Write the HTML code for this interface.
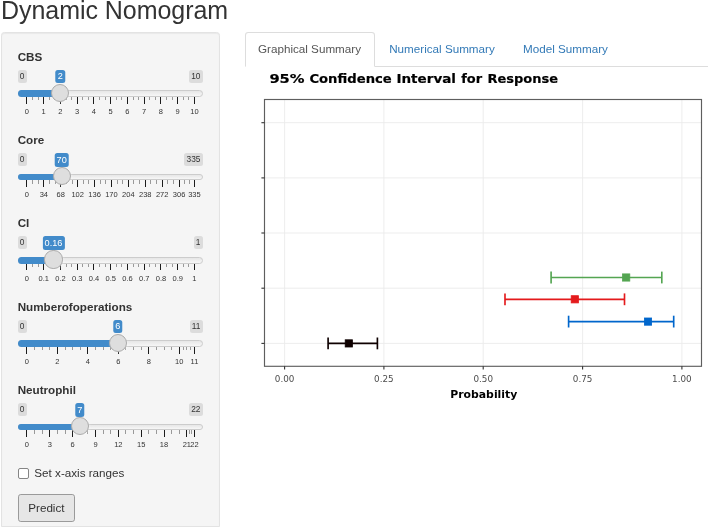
<!DOCTYPE html>
<html><head><meta charset="utf-8"><title>Dynamic Nomogram</title>
<style>
*{box-sizing:border-box}
html,body{margin:0;padding:0;background:#fff}
body{width:708px;height:528px;position:relative;overflow:hidden;font-family:"Liberation Sans",Arial,sans-serif;font-size:11.667px;line-height:16.667px;color:#333}
h2{position:absolute;left:1px;top:-2.6px;margin:0;font-weight:500;font-weight:normal;font-size:25px;line-height:27.5px;color:#333;white-space:nowrap;letter-spacing:-0.05px}
.well{position:absolute;left:1px;top:32px;width:219px;height:495px;background:#f5f5f5;border:0.83px solid #e3e3e3;border-radius:3.3px 3.3px 0 0;box-shadow:inset 0 1px 1px rgba(0,0,0,.05)}
.lbl{position:absolute;left:17.67px;font-weight:bold;white-space:nowrap;height:16.67px}
.irs{position:absolute;left:17.67px;width:185.0px;height:50px;font-size:10px}
.irs span,.irs i,.irs b{position:absolute;display:block}
.line{left:0;top:20.83px;width:100%;height:6.67px;border:0.83px solid #ccc;border-radius:6.67px;background:linear-gradient(#dedede -50%,#fff 150%)}
.bar{left:0;top:20.83px;height:6.67px;background:#428bca;border-radius:6.67px 0 0 6.67px}
.handle{top:14.2px;width:18.2px;height:18.2px;border:1px solid #ababab;background:#dedede;border-radius:50%;box-shadow:1px 1px 2.5px rgba(255,255,255,.3)}
.min,.max{top:0.3px;font-size:8.33px;line-height:11.11px;padding:0.83px 2.2px;background:rgba(0,0,0,.1);border-radius:2.5px;color:#333;white-space:nowrap}
.min{left:0}.max{right:0}
.single{top:0;font-size:9.17px;line-height:12.22px;padding:0.83px 2.2px;background:#428bca;color:#fff;border-radius:2.5px;transform:translateX(-50%);white-space:nowrap}
.pol{top:27.5px;width:0.9px;height:6.67px;background:#1c1c1c}
.pol.sm{height:3.33px;background:#999}
.gt{top:38.5px;font-weight:normal;font-size:7.5px;line-height:7.5px;color:#333;transform:translateX(-50%);white-space:nowrap}
.cb{position:absolute;left:17.67px;top:468px;width:11px;height:11px;border:0.9px solid #858585;border-radius:2px;background:#fff}
.cbl{position:absolute;left:34.33px;top:464.5px;white-space:nowrap}
.btn{position:absolute;left:17.67px;top:494px;height:28px;width:57.3px;padding:5.2px 0 0 9.6px;border:1px solid #9a9a9a;border-radius:2.8px;background:#e6e6e6;color:#333;font-size:11.667px;line-height:16.667px}
.tabs{position:absolute;left:244.5px;top:32px;right:0;height:35px;border-bottom:0.83px solid #ddd}
.tab{position:absolute;top:0;height:35px;padding:7.6px 12.5px 0;color:#337ab7;white-space:nowrap;border:0.83px solid transparent}
.tab.act{color:#555;background:#fff;border:0.83px solid #ddd;border-bottom-color:#fff;border-radius:3.3px 3.3px 0 0}
.plot{position:absolute;left:0;top:0}
.plot text{font-family:"DejaVu Sans",Verdana,sans-serif}
.tk{font-size:8.8px;fill:#4d4d4d}
.ttl{font-size:13px;font-weight:bold;fill:#000;stroke:#000;stroke-width:0.2px}
.xl{font-size:10.4px;font-weight:bold;fill:#000}
</style></head><body>
<h2>Dynamic Nomogram</h2>
<div class="well"></div>
<div class="lbl" style="top:48.67px">CBS</div>
<div class="irs" style="top:69.50px">
<span class="line"></span>
<span class="min">0</span><span class="max">10</span>
<i class="pol" style="left:8.80px"></i>
<b class="gt" style="left:9.30px">0</b>
<i class="pol sm" style="left:14.38px"></i>
<i class="pol sm" style="left:19.97px"></i>
<i class="pol" style="left:25.55px"></i>
<b class="gt" style="left:26.05px">1</b>
<i class="pol sm" style="left:31.13px"></i>
<i class="pol sm" style="left:36.72px"></i>
<i class="pol" style="left:42.30px"></i>
<b class="gt" style="left:42.80px">2</b>
<i class="pol sm" style="left:47.88px"></i>
<i class="pol sm" style="left:53.47px"></i>
<i class="pol" style="left:59.05px"></i>
<b class="gt" style="left:59.55px">3</b>
<i class="pol sm" style="left:64.63px"></i>
<i class="pol sm" style="left:70.22px"></i>
<i class="pol" style="left:75.80px"></i>
<b class="gt" style="left:76.30px">4</b>
<i class="pol sm" style="left:81.38px"></i>
<i class="pol sm" style="left:86.97px"></i>
<i class="pol" style="left:92.55px"></i>
<b class="gt" style="left:93.05px">5</b>
<i class="pol sm" style="left:98.13px"></i>
<i class="pol sm" style="left:103.72px"></i>
<i class="pol" style="left:109.30px"></i>
<b class="gt" style="left:109.80px">6</b>
<i class="pol sm" style="left:114.88px"></i>
<i class="pol sm" style="left:120.47px"></i>
<i class="pol" style="left:126.05px"></i>
<b class="gt" style="left:126.55px">7</b>
<i class="pol sm" style="left:131.63px"></i>
<i class="pol sm" style="left:137.22px"></i>
<i class="pol" style="left:142.80px"></i>
<b class="gt" style="left:143.30px">8</b>
<i class="pol sm" style="left:148.38px"></i>
<i class="pol sm" style="left:153.97px"></i>
<i class="pol" style="left:159.55px"></i>
<b class="gt" style="left:160.05px">9</b>
<i class="pol sm" style="left:165.13px"></i>
<i class="pol sm" style="left:170.72px"></i>
<i class="pol" style="left:176.30px"></i>
<b class="gt" style="left:176.80px">10</b>
<span class="bar" style="width:42.93px"></span>
<span class="single" style="left:42.53px">2</span>
<span class="handle" style="left:33.43px"></span>
</div>
<div class="lbl" style="top:132.00px">Core</div>
<div class="irs" style="top:152.83px">
<span class="line"></span>
<span class="min">0</span><span class="max">335</span>
<i class="pol" style="left:8.80px"></i>
<b class="gt" style="left:9.30px">0</b>
<i class="pol sm" style="left:14.43px"></i>
<i class="pol sm" style="left:20.07px"></i>
<i class="pol" style="left:25.70px"></i>
<b class="gt" style="left:26.20px">34</b>
<i class="pol sm" style="left:31.33px"></i>
<i class="pol sm" style="left:36.97px"></i>
<i class="pol" style="left:42.60px"></i>
<b class="gt" style="left:43.10px">68</b>
<i class="pol sm" style="left:48.24px"></i>
<i class="pol sm" style="left:53.87px"></i>
<i class="pol" style="left:59.50px"></i>
<b class="gt" style="left:60.00px">102</b>
<i class="pol sm" style="left:65.14px"></i>
<i class="pol sm" style="left:70.77px"></i>
<i class="pol" style="left:76.40px"></i>
<b class="gt" style="left:76.90px">136</b>
<i class="pol sm" style="left:82.04px"></i>
<i class="pol sm" style="left:87.67px"></i>
<i class="pol" style="left:93.30px"></i>
<b class="gt" style="left:93.80px">170</b>
<i class="pol sm" style="left:98.94px"></i>
<i class="pol sm" style="left:104.57px"></i>
<i class="pol" style="left:110.20px"></i>
<b class="gt" style="left:110.70px">204</b>
<i class="pol sm" style="left:115.84px"></i>
<i class="pol sm" style="left:121.47px"></i>
<i class="pol" style="left:127.11px"></i>
<b class="gt" style="left:127.61px">238</b>
<i class="pol sm" style="left:132.74px"></i>
<i class="pol sm" style="left:138.37px"></i>
<i class="pol" style="left:144.01px"></i>
<b class="gt" style="left:144.51px">272</b>
<i class="pol sm" style="left:149.64px"></i>
<i class="pol sm" style="left:155.27px"></i>
<i class="pol" style="left:160.91px"></i>
<b class="gt" style="left:161.41px">306</b>
<i class="pol sm" style="left:166.04px"></i>
<i class="pol sm" style="left:171.17px"></i>
<i class="pol" style="left:176.30px"></i>
<b class="gt" style="left:176.80px">335</b>
<span class="bar" style="width:44.43px"></span>
<span class="single" style="left:44.03px">70</span>
<span class="handle" style="left:34.93px"></span>
</div>
<div class="lbl" style="top:215.34px">CI</div>
<div class="irs" style="top:236.17px">
<span class="line"></span>
<span class="min">0</span><span class="max">1</span>
<i class="pol" style="left:8.80px"></i>
<b class="gt" style="left:9.30px">0</b>
<i class="pol sm" style="left:14.38px"></i>
<i class="pol sm" style="left:19.97px"></i>
<i class="pol" style="left:25.55px"></i>
<b class="gt" style="left:26.05px">0.1</b>
<i class="pol sm" style="left:31.13px"></i>
<i class="pol sm" style="left:36.72px"></i>
<i class="pol" style="left:42.30px"></i>
<b class="gt" style="left:42.80px">0.2</b>
<i class="pol sm" style="left:47.88px"></i>
<i class="pol sm" style="left:53.47px"></i>
<i class="pol" style="left:59.05px"></i>
<b class="gt" style="left:59.55px">0.3</b>
<i class="pol sm" style="left:64.63px"></i>
<i class="pol sm" style="left:70.22px"></i>
<i class="pol" style="left:75.80px"></i>
<b class="gt" style="left:76.30px">0.4</b>
<i class="pol sm" style="left:81.38px"></i>
<i class="pol sm" style="left:86.97px"></i>
<i class="pol" style="left:92.55px"></i>
<b class="gt" style="left:93.05px">0.5</b>
<i class="pol sm" style="left:98.13px"></i>
<i class="pol sm" style="left:103.72px"></i>
<i class="pol" style="left:109.30px"></i>
<b class="gt" style="left:109.80px">0.6</b>
<i class="pol sm" style="left:114.88px"></i>
<i class="pol sm" style="left:120.47px"></i>
<i class="pol" style="left:126.05px"></i>
<b class="gt" style="left:126.55px">0.7</b>
<i class="pol sm" style="left:131.63px"></i>
<i class="pol sm" style="left:137.22px"></i>
<i class="pol" style="left:142.80px"></i>
<b class="gt" style="left:143.30px">0.8</b>
<i class="pol sm" style="left:148.38px"></i>
<i class="pol sm" style="left:153.97px"></i>
<i class="pol" style="left:159.55px"></i>
<b class="gt" style="left:160.05px">0.9</b>
<i class="pol sm" style="left:165.13px"></i>
<i class="pol sm" style="left:170.72px"></i>
<i class="pol" style="left:176.30px"></i>
<b class="gt" style="left:176.80px">1</b>
<span class="bar" style="width:36.27px"></span>
<span class="single" style="left:35.87px">0.16</span>
<span class="handle" style="left:26.77px"></span>
</div>
<div class="lbl" style="top:298.67px">Numberofoperations</div>
<div class="irs" style="top:319.50px">
<span class="line"></span>
<span class="min">0</span><span class="max">11</span>
<i class="pol" style="left:8.80px"></i>
<b class="gt" style="left:9.30px">0</b>
<i class="pol sm" style="left:16.41px"></i>
<i class="pol sm" style="left:24.03px"></i>
<i class="pol sm" style="left:31.64px"></i>
<i class="pol" style="left:39.25px"></i>
<b class="gt" style="left:39.75px">2</b>
<i class="pol sm" style="left:46.87px"></i>
<i class="pol sm" style="left:54.48px"></i>
<i class="pol sm" style="left:62.10px"></i>
<i class="pol" style="left:69.71px"></i>
<b class="gt" style="left:70.21px">4</b>
<i class="pol sm" style="left:77.32px"></i>
<i class="pol sm" style="left:84.94px"></i>
<i class="pol sm" style="left:92.55px"></i>
<i class="pol" style="left:100.16px"></i>
<b class="gt" style="left:100.66px">6</b>
<i class="pol sm" style="left:107.78px"></i>
<i class="pol sm" style="left:115.39px"></i>
<i class="pol sm" style="left:123.00px"></i>
<i class="pol" style="left:130.62px"></i>
<b class="gt" style="left:131.12px">8</b>
<i class="pol sm" style="left:138.23px"></i>
<i class="pol sm" style="left:145.85px"></i>
<i class="pol sm" style="left:153.46px"></i>
<i class="pol" style="left:161.07px"></i>
<b class="gt" style="left:161.57px">10</b>
<i class="pol sm" style="left:164.88px"></i>
<i class="pol sm" style="left:168.69px"></i>
<i class="pol sm" style="left:172.49px"></i>
<i class="pol" style="left:176.30px"></i>
<b class="gt" style="left:176.80px">11</b>
<span class="bar" style="width:100.51px"></span>
<span class="single" style="left:100.11px">6</span>
<span class="handle" style="left:91.01px"></span>
</div>
<div class="lbl" style="top:382.00px">Neutrophil</div>
<div class="irs" style="top:402.83px">
<span class="line"></span>
<span class="min">0</span><span class="max">22</span>
<i class="pol" style="left:8.80px"></i>
<b class="gt" style="left:9.30px">0</b>
<i class="pol sm" style="left:16.41px"></i>
<i class="pol sm" style="left:24.03px"></i>
<i class="pol" style="left:31.64px"></i>
<b class="gt" style="left:32.14px">3</b>
<i class="pol sm" style="left:39.25px"></i>
<i class="pol sm" style="left:46.87px"></i>
<i class="pol" style="left:54.48px"></i>
<b class="gt" style="left:54.98px">6</b>
<i class="pol sm" style="left:62.10px"></i>
<i class="pol sm" style="left:69.71px"></i>
<i class="pol" style="left:77.32px"></i>
<b class="gt" style="left:77.82px">9</b>
<i class="pol sm" style="left:84.94px"></i>
<i class="pol sm" style="left:92.55px"></i>
<i class="pol" style="left:100.16px"></i>
<b class="gt" style="left:100.66px">12</b>
<i class="pol sm" style="left:107.78px"></i>
<i class="pol sm" style="left:115.39px"></i>
<i class="pol" style="left:123.00px"></i>
<b class="gt" style="left:123.50px">15</b>
<i class="pol sm" style="left:130.62px"></i>
<i class="pol sm" style="left:138.23px"></i>
<i class="pol" style="left:145.85px"></i>
<b class="gt" style="left:146.35px">18</b>
<i class="pol sm" style="left:153.46px"></i>
<i class="pol sm" style="left:161.07px"></i>
<i class="pol" style="left:168.69px"></i>
<b class="gt" style="left:169.19px">21</b>
<i class="pol sm" style="left:171.22px"></i>
<i class="pol sm" style="left:173.76px"></i>
<i class="pol" style="left:176.30px"></i>
<b class="gt" style="left:176.80px">22</b>
<span class="bar" style="width:62.63px"></span>
<span class="single" style="left:62.23px">7</span>
<span class="handle" style="left:53.13px"></span>
</div>
<span class="cb"></span><span class="cbl">Set x-axis ranges</span>
<span class="btn">Predict</span>
<div class="tabs">
<span class="tab act" style="left:0">Graphical Summary</span>
<span class="tab" style="left:131.2px">Numerical Summary</span>
<span class="tab" style="left:265.1px">Model Summary</span>
</div>
<svg class="plot" width="708" height="528" viewBox="0 0 708 528">
<line x1="284.6" x2="284.6" y1="99.5" y2="366.3" stroke="#ebebeb" stroke-width="0.9"/>
<line x1="383.9" x2="383.9" y1="99.5" y2="366.3" stroke="#ebebeb" stroke-width="0.9"/>
<line x1="483.2" x2="483.2" y1="99.5" y2="366.3" stroke="#ebebeb" stroke-width="0.9"/>
<line x1="582.6" x2="582.6" y1="99.5" y2="366.3" stroke="#ebebeb" stroke-width="0.9"/>
<line x1="681.9" x2="681.9" y1="99.5" y2="366.3" stroke="#ebebeb" stroke-width="0.9"/>
<line x1="264.5" x2="701.5" y1="343.4" y2="343.4" stroke="#ebebeb" stroke-width="0.9"/>
<line x1="264.5" x2="701.5" y1="288.2" y2="288.2" stroke="#ebebeb" stroke-width="0.9"/>
<line x1="264.5" x2="701.5" y1="233.0" y2="233.0" stroke="#ebebeb" stroke-width="0.9"/>
<line x1="264.5" x2="701.5" y1="177.9" y2="177.9" stroke="#ebebeb" stroke-width="0.9"/>
<line x1="264.5" x2="701.5" y1="122.7" y2="122.7" stroke="#ebebeb" stroke-width="0.9"/>
<g stroke="#0E0000" stroke-width="1.65" fill="#0E0000"><line x1="328.1" x2="377.4" y1="343.4" y2="343.4"/><line x1="328.1" x2="328.1" y1="337.5" y2="349.29999999999995"/><line x1="377.4" x2="377.4" y1="337.5" y2="349.29999999999995"/><rect x="345.2" y="339.79999999999995" width="7.2" height="7.2" stroke-width="0.8"/></g>
<g stroke="#0066CC" stroke-width="1.65" fill="#0066CC"><line x1="568.6" x2="673.7" y1="321.6" y2="321.6"/><line x1="568.6" x2="568.6" y1="315.70000000000005" y2="327.5"/><line x1="673.7" x2="673.7" y1="315.70000000000005" y2="327.5"/><rect x="644.4" y="318.0" width="7.2" height="7.2" stroke-width="0.8"/></g>
<g stroke="#E41A1C" stroke-width="1.65" fill="#E41A1C"><line x1="505.0" x2="624.5" y1="299.3" y2="299.3"/><line x1="505.0" x2="505.0" y1="293.40000000000003" y2="305.2"/><line x1="624.5" x2="624.5" y1="293.40000000000003" y2="305.2"/><rect x="571.1999999999999" y="295.7" width="7.2" height="7.2" stroke-width="0.8"/></g>
<g stroke="#54A552" stroke-width="1.65" fill="#54A552"><line x1="551.1" x2="661.8" y1="277.5" y2="277.5"/><line x1="551.1" x2="551.1" y1="271.6" y2="283.4"/><line x1="661.8" x2="661.8" y1="271.6" y2="283.4"/><rect x="622.6" y="273.9" width="7.2" height="7.2" stroke-width="0.8"/></g>
<rect x="264.5" y="99.5" width="437" height="266.8" fill="none" stroke="#5e5e5e" stroke-width="1.15"/>
<line x1="261.4" x2="264.5" y1="343.4" y2="343.4" stroke="#333" stroke-width="1.1"/>
<line x1="261.4" x2="264.5" y1="288.2" y2="288.2" stroke="#333" stroke-width="1.1"/>
<line x1="261.4" x2="264.5" y1="233.0" y2="233.0" stroke="#333" stroke-width="1.1"/>
<line x1="261.4" x2="264.5" y1="177.9" y2="177.9" stroke="#333" stroke-width="1.1"/>
<line x1="261.4" x2="264.5" y1="122.7" y2="122.7" stroke="#333" stroke-width="1.1"/>
<line x1="284.6" x2="284.6" y1="366.3" y2="369.6" stroke="#333" stroke-width="1.1"/>
<text x="284.6" y="381.5" text-anchor="middle" class="tk">0.00</text>
<line x1="383.9" x2="383.9" y1="366.3" y2="369.6" stroke="#333" stroke-width="1.1"/>
<text x="383.9" y="381.5" text-anchor="middle" class="tk">0.25</text>
<line x1="483.2" x2="483.2" y1="366.3" y2="369.6" stroke="#333" stroke-width="1.1"/>
<text x="483.2" y="381.5" text-anchor="middle" class="tk">0.50</text>
<line x1="582.6" x2="582.6" y1="366.3" y2="369.6" stroke="#333" stroke-width="1.1"/>
<text x="582.6" y="381.5" text-anchor="middle" class="tk">0.75</text>
<line x1="681.9" x2="681.9" y1="366.3" y2="369.6" stroke="#333" stroke-width="1.1"/>
<text x="681.9" y="381.5" text-anchor="middle" class="tk">1.00</text>
<text y="83.3" class="ttl"><tspan x="269.4" textLength="35.2" lengthAdjust="spacingAndGlyphs">95%</tspan> <tspan x="309.4" textLength="82.4" lengthAdjust="spacingAndGlyphs">Confidence</tspan> <tspan x="396.4" textLength="59.6" lengthAdjust="spacingAndGlyphs">Interval</tspan> <tspan x="461.2" textLength="20.9" lengthAdjust="spacingAndGlyphs">for</tspan> <tspan x="487.4" textLength="70.6" lengthAdjust="spacingAndGlyphs">Response</tspan></text>
<text x="450.3" y="397.6" textLength="67" lengthAdjust="spacingAndGlyphs" class="xl">Probability</text>
</svg>
</body></html>
